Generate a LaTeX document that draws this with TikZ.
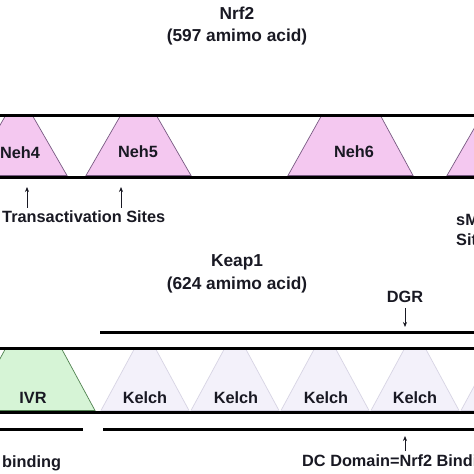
\documentclass[tikz,border=0pt]{standalone}
\usepackage{fontspec}
\setmainfont{Liberation Sans}
\usetikzlibrary{arrows.meta}
\definecolor{nehfill}{RGB}{244,200,240}
\definecolor{nehedge}{RGB}{120,90,130}
\definecolor{ivrfill}{RGB}{214,244,214}
\definecolor{ivredge}{RGB}{80,130,80}
\definecolor{kelfill}{RGB}{243,241,250}
\definecolor{keledge}{RGB}{215,212,228}
\definecolor{txt}{RGB}{25,25,35}
\tikzset{
  bar/.style={line width=3pt, black},
  neh/.style={fill=nehfill, draw=nehedge, line width=0.7pt},
  ivr/.style={fill=ivrfill, draw=ivredge, line width=0.7pt},
  kel/.style={fill=kelfill, draw=keledge, line width=0.7pt},
  lab/.style={text=txt, font=\bfseries\fontsize{16.3}{18}\selectfont, inner sep=0pt},
  ttl/.style={text=txt, font=\fontsize{17.3}{19}\selectfont\bfseries, inner sep=0pt},
  ptr/.style={-{Stealth[length=5pt,width=4pt]}, line width=0.7pt, txt}
}
\begin{document}
\begin{tikzpicture}[x=1pt,y=-1pt]
\useasboundingbox (0,0) rectangle (474,474);
\fill[white] (0,0) rectangle (474,474);
\clip (0,0) rectangle (474,474);

% ---------- Nrf2 ----------
\node[ttl] (nrf2) at (237,13) {Nrf2};
\node[ttl] (nrf2aa) at (237,37) {(597 amimo acid)};

\draw[neh] (5,116.5) -- (33,116.5) -- (67,175.5) -- (-29,175.5) -- cycle;
\draw[neh] (120,116.5) -- (157,116.5) -- (191,175.5) -- (86,175.5) -- cycle;
\draw[neh] (321,116.5) -- (381,116.5) -- (413,175.5) -- (288,175.5) -- cycle;
\draw[neh] (481,116.5) -- (541,116.5) -- (575,175.5) -- (447,175.5) -- cycle;

\draw[bar] (-5,115) -- (480,115);
\draw[bar] (-5,177) -- (480,177);

\node[lab] (neh4) at (20,153) {Neh4};
\node[lab] (neh5) at (138,152) {Neh5};
\node[lab] (neh6) at (354,152) {Neh6};

\node[lab, anchor=west] (trans) at (2,217) {Transactivation Sites};
\coordinate (t1) at (27,187);
\coordinate (t2) at (121,187);
\draw[ptr] (trans.north west -| t1) ++(0,-3) -- (t1);
\draw[ptr] (trans.north west -| t2) ++(0,-3) -- (t2);

\node[lab, anchor=west] (smaf) at (456,220) {sMaf};
\node[lab, anchor=west] (sites) at (456,240) {Sites};

% ---------- Keap1 ----------
\node[ttl] (keap1) at (237,262) {Keap1};
\node[ttl] (keapaa) at (237,285) {(624 amimo acid)};

\draw[ivr] (5,349.5) -- (62,349.5) -- (95,410.5) -- (-28,410.5) -- cycle;
\foreach \c in {145,235,325,415,505}{
  \draw[kel] (\c-11,349.5) -- (\c+11,349.5) -- (\c+44,410.5) -- (\c-44,410.5) -- cycle;
}

\draw[bar] (100,332) -- (480,332);
\draw[bar] (-5,348) -- (480,348);
\draw[bar] (-5,412) -- (480,412);
\draw[bar] (-5,429) -- (83,429);
\draw[bar] (103,429) -- (480,429);

\node[lab] (ivr) at (33,398) {IVR};
\node[lab] (k1) at (145,398) {Kelch};
\node[lab] (k2) at (236,398) {Kelch};
\node[lab] (k3) at (326,398) {Kelch};
\node[lab] (k4) at (415,398) {Kelch};

\node[lab] (dgr) at (405,297) {DGR};
\coordinate (dgrtip) at (405,327);
\draw[ptr] (dgr.south) ++(0,5) -- (dgrtip);

\node[lab, anchor=west] (dc) at (302,462) {DC Domain=Nrf2 Binding};
\coordinate (dctip) at (405,436);
\draw[ptr] (dc.north -| dctip) ++(0,-3) -- (dctip);

\node[lab, anchor=west] (bind) at (2,463) {binding};
\end{tikzpicture}
\end{document}
